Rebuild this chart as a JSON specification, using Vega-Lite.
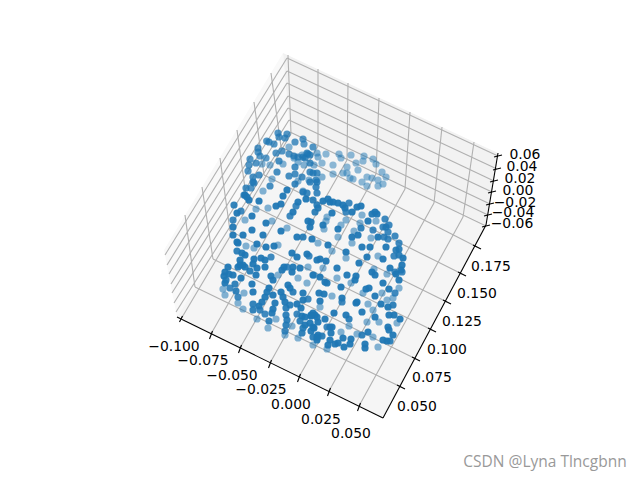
{"$schema":"https://vega.github.io/schema/vega-lite/v6.json","width":640,"height":480,"padding":0,"autosize":{"type":"fit","contains":"padding"},"background":"white","config":{"view":{"stroke":null}},
"datasets":{
"panes":[{"pane":"x","x":164,"y":250,"y2":250},{"pane":"x","x":177,"y":228.5,"y2":317},{"pane":"x","x":283,"y":53,"y2":144.4},{"pane":"x","x":290,"y":133,"y2":133},
{"pane":"y","x":283,"y":53,"y2":53},{"pane":"y","x":290,"y":56.3,"y2":133},{"pane":"y","x":486,"y":147.4,"y2":225},{"pane":"y","x":498,"y":153,"y2":153},
{"pane":"z","x":177,"y":317,"y2":317},{"pane":"z","x":290,"y":133,"y2":372.4},{"pane":"z","x":383,"y":176.7,"y2":418},{"pane":"z","x":486,"y":225,"y2":225}],
"grid":[
{"x":181,"y":319,"x2":291,"y2":134},{"x":211,"y":334,"x2":318,"y2":146},{"x":240,"y":348,"x2":347,"y2":160},{"x":270,"y":363,"x2":376,"y2":174},{"x":299,"y":377,"x2":405,"y2":189},{"x":329,"y":391,"x2":434,"y2":203},{"x":359,"y":406,"x2":463,"y2":217},
{"x":291,"y":134,"x2":288,"y2":55},{"x":318,"y":146,"x2":318,"y2":69},{"x":347,"y":160,"x2":348,"y2":83},{"x":376,"y":174,"x2":379,"y2":98},{"x":405,"y":189,"x2":410,"y2":112},{"x":434,"y":203,"x2":442,"y2":127},{"x":463,"y":217,"x2":474,"y2":142},
{"x":401,"y":387,"x2":195,"y2":287},{"x":416,"y":359,"x2":213,"y2":259},{"x":432,"y":330,"x2":230,"y2":231},{"x":447,"y":302,"x2":247,"y2":203},{"x":462,"y":274,"x2":264,"y2":175},{"x":477,"y":247,"x2":281,"y2":147},
{"x":195,"y":287,"x2":185,"y2":215},{"x":213,"y":259,"x2":202,"y2":187},{"x":230,"y":231,"x2":220,"y2":158},{"x":247,"y":203,"x2":237,"y2":130},{"x":264,"y":175,"x2":254,"y2":102},{"x":281,"y":147,"x2":271,"y2":73},
{"x":287,"y":58,"x2":498,"y2":156},{"x":287,"y":71,"x2":497,"y2":169},{"x":287,"y":83,"x2":494,"y2":181},{"x":288,"y":96,"x2":492,"y2":192},{"x":288,"y":108,"x2":490,"y2":204},{"x":289,"y":120,"x2":488,"y2":215},{"x":290,"y":132,"x2":486,"y2":226},
{"x":287,"y":58,"x2":165,"y2":255},{"x":287,"y":71,"x2":167,"y2":265},{"x":287,"y":83,"x2":169,"y2":274},{"x":288,"y":96,"x2":171,"y2":284},{"x":288,"y":108,"x2":172,"y2":293},{"x":289,"y":120,"x2":174,"y2":303},{"x":290,"y":132,"x2":176,"y2":312}],
"axes":[{"x":177,"y":317,"x2":383,"y2":418},{"x":383,"y":418,"x2":486,"y2":225},{"x":486,"y":225,"x2":498,"y2":153},
{"x":179.5,"y":322,"x2":182.5,"y2":316},{"x":209.5,"y":339,"x2":212.5,"y2":331},{"x":238.5,"y":353,"x2":241.5,"y2":345},{"x":268.5,"y":368,"x2":271.5,"y2":360},{"x":297.5,"y":382,"x2":300.5,"y2":374},{"x":327.5,"y":396,"x2":330.5,"y2":388},{"x":357.5,"y":411,"x2":360.5,"y2":403},
{"x":397,"y":385,"x2":405,"y2":389},{"x":412,"y":357,"x2":420,"y2":361},{"x":428,"y":328,"x2":436,"y2":332},{"x":443,"y":300,"x2":451,"y2":304},{"x":458,"y":272,"x2":466,"y2":276},{"x":473,"y":245,"x2":481,"y2":249},
{"x":494,"y":157,"x2":502,"y2":155},{"x":493,"y":170,"x2":501,"y2":168},{"x":490,"y":182,"x2":498,"y2":180},{"x":488,"y":193,"x2":496,"y2":191},{"x":486,"y":205,"x2":494,"y2":203},{"x":484,"y":216,"x2":492,"y2":214},{"x":482,"y":227,"x2":490,"y2":225}],
"labels":[{"x":174,"y":347,"t":"−0.100"},{"x":203,"y":361,"t":"−0.075"},{"x":232,"y":376,"t":"−0.050"},{"x":261,"y":390,"t":"−0.025"},{"x":291,"y":405,"t":"0.000"},{"x":321,"y":420,"t":"0.025"},{"x":351,"y":434,"t":"0.050"},
{"x":491,"y":267,"t":"0.175"},{"x":477,"y":294,"t":"0.150"},{"x":462,"y":322,"t":"0.125"},{"x":447,"y":350,"t":"0.100"},{"x":432,"y":378,"t":"0.075"},{"x":417,"y":407,"t":"0.050"},
{"x":525,"y":155,"t":"0.06"},{"x":522,"y":167,"t":"0.04"},{"x":520,"y":179,"t":"0.02"},{"x":518,"y":191,"t":"0.00"},{"x":515,"y":203,"t":"−0.02"},{"x":513,"y":213,"t":"−0.04"},{"x":512,"y":224,"t":"−0.06"}],
"note":[{"x":545,"y":462,"t":"CSDN @Lyna Tlncgbnn"}],
"points":[
{"x":339,"y":154,"d":0},{"x":341,"y":158,"d":0},{"x":351,"y":155,"d":0},{"x":364,"y":156,"d":0},{"x":363,"y":161,"d":0},{"x":373,"y":159,"d":0},{"x":376,"y":164,"d":0},{"x":356,"y":163,"d":0},{"x":358,"y":170,"d":0},{"x":347,"y":167,"d":0},{"x":343,"y":173,"d":0},{"x":347,"y":173,"d":0},{"x":333,"y":165,"d":0},{"x":333,"y":174,"d":0},{"x":382,"y":172,"d":0},{"x":386,"y":177,"d":0},{"x":383,"y":184,"d":0},{"x":378,"y":186,"d":0},{"x":378,"y":180,"d":0},{"x":372,"y":178,"d":0},{"x":367,"y":177,"d":0},{"x":362,"y":182,"d":0},{"x":367,"y":186,"d":0},{"x":350,"y":178,"d":0},{"x":353,"y":179,"d":0},{"x":326,"y":154,"d":0},{"x":322,"y":163,"d":0},
{"x":289,"y":147,"d":0.1},{"x":317,"y":153,"d":0.1},{"x":318,"y":157,"d":0.1},{"x":314,"y":165,"d":0.1},{"x":304,"y":165,"d":0.1},{"x":298,"y":162,"d":0.1},{"x":294,"y":158,"d":0.1},{"x":302,"y":155,"d":0.1},{"x":270,"y":165,"d":0.1},{"x":262,"y":164,"d":0.1},{"x":283,"y":164,"d":0.1},{"x":272,"y":179,"d":0.1},{"x":263,"y":191,"d":0.1},{"x":256,"y":209,"d":0.1},{"x":245,"y":220,"d":0.1},{"x":268,"y":208,"d":0.1},{"x":272,"y":221,"d":0.1},{"x":287,"y":228,"d":0.1},{"x":246,"y":246,"d":0.1},{"x":278,"y":245,"d":0.1},{"x":254,"y":248,"d":0.1},{"x":303,"y":191,"d":0.1},{"x":298,"y":181,"d":0.1},{"x":309,"y":180,"d":0.1},{"x":322,"y":177,"d":0.1},{"x":318,"y":243,"d":0.1},{"x":332,"y":251,"d":0.1},{"x":346,"y":258,"d":0.1},{"x":338,"y":237,"d":0.1},{"x":352,"y":243,"d":0.1},{"x":354,"y":231,"d":0.1},{"x":360,"y":223,"d":0.1},{"x":362,"y":215,"d":0.1},{"x":346,"y":220,"d":0.1},{"x":341,"y":225,"d":0.1},{"x":327,"y":217,"d":0.1},{"x":326,"y":221,"d":0.1},{"x":324,"y":229,"d":0.1},{"x":371,"y":238,"d":0.1},{"x":376,"y":221,"d":0.1},{"x":378,"y":256,"d":0.1},{"x":323,"y":268,"d":0.1},{"x":374,"y":269,"d":0.1},{"x":337,"y":278,"d":0.1},{"x":387,"y":274,"d":0.1},{"x":314,"y":275,"d":0.1},{"x":308,"y":267,"d":0.1},{"x":307,"y":283,"d":0.1},{"x":298,"y":278,"d":0.1},{"x":278,"y":275,"d":0.1},{"x":244,"y":293,"d":0.1},{"x":243,"y":309,"d":0.1},{"x":238,"y":303,"d":0.1},{"x":225,"y":295,"d":0.1},{"x":223,"y":289,"d":0.1},{"x":268,"y":328,"d":0.1},{"x":276,"y":319,"d":0.1},{"x":257,"y":319,"d":0.1},{"x":285,"y":335,"d":0.1},{"x":298,"y":338,"d":0.1},{"x":292,"y":326,"d":0.1},{"x":332,"y":296,"d":0.1},{"x":320,"y":307,"d":0.1},{"x":349,"y":326,"d":0.1},{"x":341,"y":332,"d":0.1},{"x":367,"y":322,"d":0.1},{"x":379,"y":322,"d":0.1},{"x":368,"y":304,"d":0.1},{"x":373,"y":310,"d":0.1},{"x":363,"y":293,"d":0.1},{"x":382,"y":293,"d":0.1},{"x":387,"y":300,"d":0.1},{"x":393,"y":298,"d":0.1},{"x":399,"y":288,"d":0.1},{"x":378,"y":347,"d":0.1},{"x":351,"y":283,"d":0.1},{"x":397,"y":323,"d":0.1},{"x":373,"y":337,"d":0.1},{"x":357,"y":334,"d":0.1},{"x":327,"y":349,"d":0.1},{"x":313,"y":345,"d":0.1},
{"x":266.7,"y":141,"d":0.6},{"x":269,"y":142,"d":0.6},{"x":278,"y":133,"d":0.6},{"x":279,"y":137,"d":0.6},{"x":287,"y":134,"d":0.6},{"x":285,"y":138,"d":0.6},{"x":274,"y":144,"d":0.6},{"x":295,"y":142,"d":0.6},{"x":303,"y":139,"d":0.6},{"x":304,"y":144,"d":0.5},{"x":282,"y":151,"d":0.6},{"x":276,"y":153,"d":0.6},{"x":258,"y":148,"d":0.6},{"x":258,"y":152,"d":0.6},{"x":260,"y":156,"d":0.5},{"x":266,"y":158,"d":0.5},{"x":250,"y":159,"d":0.6},{"x":256,"y":163,"d":0.6},{"x":249,"y":165,"d":0.6},{"x":248,"y":171,"d":0.6},{"x":279,"y":161,"d":0.7},{"x":277,"y":172,"d":0.7},{"x":259,"y":175,"d":0.7},{"x":253,"y":177,"d":0.7},{"x":254,"y":183,"d":0.6},{"x":251,"y":188,"d":0.6},{"x":270,"y":186,"d":0.7},{"x":246,"y":188,"d":0.7},{"x":244,"y":195,"d":0.7},{"x":289,"y":154,"d":0.6},{"x":294,"y":156,"d":0.6},{"x":313,"y":147,"d":0.6},{"x":308,"y":154,"d":0.7},{"x":303,"y":157,"d":0.7},{"x":305,"y":158,"d":0.7},{"x":307,"y":153,"d":0.7},{"x":310,"y":155,"d":0.7},{"x":298,"y":157,"d":0.6},{"x":310,"y":163,"d":0.7},{"x":295,"y":167,"d":0.7},{"x":310,"y":172,"d":0.7},{"x":313,"y":173,"d":0.7},{"x":317,"y":173,"d":0.7},{"x":295,"y":174,"d":0.7},{"x":302,"y":177,"d":0.7},{"x":316,"y":180,"d":0.7},{"x":289,"y":176,"d":0.7},
{"x":253,"y":182,"d":0.8},{"x":295,"y":184,"d":0.8},{"x":310,"y":182,"d":0.8},{"x":317,"y":182,"d":0.8},{"x":316,"y":187,"d":0.8},{"x":317,"y":193,"d":0.8},{"x":287,"y":190,"d":1},{"x":283,"y":196,"d":1},{"x":303,"y":192,"d":0.8},{"x":307,"y":193,"d":0.8},{"x":306,"y":199,"d":1},{"x":313,"y":200,"d":0.9},{"x":323,"y":201,"d":1},{"x":328,"y":199,"d":1},{"x":330,"y":202,"d":1},{"x":333,"y":202,"d":1},{"x":338,"y":203,"d":1},{"x":343,"y":205,"d":1},{"x":349,"y":203,"d":0.8},{"x":345,"y":208,"d":1},{"x":357,"y":207,"d":1},{"x":361,"y":206,"d":1},{"x":352,"y":212,"d":1},{"x":346,"y":212,"d":0.8},{"x":332,"y":213,"d":1},{"x":317,"y":205,"d":0.9},{"x":318,"y":208,"d":0.9},{"x":315,"y":212,"d":0.9},{"x":323,"y":225,"d":1},{"x":338,"y":229,"d":1},{"x":361,"y":228,"d":0.9},{"x":358,"y":235,"d":1},{"x":352,"y":237,"d":1},{"x":368,"y":221,"d":1},{"x":372,"y":214,"d":1},{"x":375,"y":212,"d":1},{"x":377,"y":214,"d":1},{"x":385,"y":219,"d":0.8},{"x":386,"y":227,"d":0.8},{"x":389,"y":225,"d":0.8},{"x":383,"y":227,"d":0.8},{"x":373,"y":230,"d":0.8},{"x":388,"y":232,"d":0.8},{"x":384,"y":237,"d":0.8},{"x":378,"y":237,"d":1},{"x":388,"y":239,"d":0.8},{"x":395,"y":236,"d":0.8},{"x":399,"y":243,"d":0.8},{"x":386,"y":247,"d":1},{"x":396,"y":250,"d":0.9},{"x":399,"y":249,"d":0.9},{"x":394,"y":256,"d":0.8},{"x":399,"y":255,"d":0.9},{"x":403,"y":258,"d":1},{"x":402,"y":265,"d":1},{"x":390,"y":268,"d":1},{"x":401,"y":270,"d":1},{"x":395,"y":272,"d":0.8},{"x":312,"y":239,"d":1},{"x":328,"y":245,"d":1},{"x":346,"y":252,"d":1},{"x":362,"y":247,"d":1},{"x":370,"y":247,"d":1},{"x":367,"y":257,"d":1},{"x":383,"y":259,"d":1},{"x":359,"y":263,"d":1},{"x":320,"y":259,"d":1},{"x":326,"y":261,"d":1},{"x":337,"y":268,"d":1},{"x":234,"y":205,"d":0.9},{"x":237,"y":213,"d":1},{"x":241,"y":211,"d":0.8},{"x":233,"y":220,"d":0.8},{"x":233,"y":227,"d":1},{"x":252,"y":216,"d":1},{"x":259,"y":201,"d":1},{"x":249,"y":200,"d":1},{"x":245,"y":195,"d":1},{"x":247,"y":197,"d":1},{"x":298,"y":202,"d":1},{"x":296,"y":206,"d":0.8},{"x":276,"y":206,"d":1},{"x":281,"y":204,"d":1},{"x":293,"y":212,"d":1},{"x":290,"y":216,"d":0.8},{"x":266,"y":223,"d":1},{"x":252,"y":230,"d":1},{"x":263,"y":235,"d":1},{"x":281,"y":231,"d":1},{"x":308,"y":221,"d":1},{"x":311,"y":222,"d":1},{"x":310,"y":227,"d":1},{"x":297,"y":237,"d":1},{"x":303,"y":237,"d":0.9},{"x":233,"y":235,"d":1},{"x":243,"y":235,"d":1},{"x":237,"y":242,"d":1},{"x":238,"y":243,"d":1},{"x":257,"y":244,"d":1},{"x":266,"y":247,"d":1},{"x":274,"y":246,"d":1},{"x":237,"y":251,"d":0.9},{"x":242,"y":253,"d":1},{"x":245,"y":255,"d":1},{"x":240,"y":260,"d":1},{"x":254,"y":259,"d":1},{"x":261,"y":258,"d":1},{"x":265,"y":260,"d":1},{"x":271,"y":257,"d":0.8},{"x":292,"y":253,"d":1},{"x":297,"y":257,"d":1},{"x":307,"y":254,"d":1},{"x":309,"y":256,"d":0.8},{"x":243,"y":265,"d":1},{"x":238,"y":267,"d":1},{"x":228,"y":267,"d":1},{"x":253,"y":264,"d":1},{"x":257,"y":268,"d":1},{"x":265,"y":267,"d":1},{"x":284,"y":267,"d":1},{"x":293,"y":267,"d":1},{"x":317,"y":260,"d":1},{"x":300,"y":268,"d":1},
{"x":225,"y":272,"d":1},{"x":224,"y":276,"d":1},{"x":229,"y":274,"d":1},{"x":233,"y":275,"d":1},{"x":226,"y":280,"d":0.9},{"x":225,"y":283,"d":1},{"x":230,"y":288,"d":0.8},{"x":235,"y":284,"d":0.9},{"x":236,"y":291,"d":0.9},{"x":241,"y":278,"d":1},{"x":238,"y":297,"d":0.8},{"x":250,"y":271,"d":0.9},{"x":256,"y":275,"d":1},{"x":252,"y":284,"d":1},{"x":253,"y":292,"d":1},{"x":240,"y":265,"d":1},{"x":245,"y":267,"d":1},{"x":271,"y":276,"d":1},{"x":273,"y":280,"d":1},{"x":282,"y":270,"d":1},{"x":287,"y":267,"d":0.8},{"x":292,"y":272,"d":1},{"x":288,"y":285,"d":1},{"x":290,"y":288,"d":1},{"x":293,"y":292,"d":0.9},{"x":269,"y":288,"d":1},{"x":267,"y":292,"d":1},{"x":265,"y":297,"d":1},{"x":273,"y":295,"d":1},{"x":281,"y":292,"d":1},{"x":283,"y":297,"d":1},{"x":285,"y":302,"d":1},{"x":290,"y":305,"d":0.9},{"x":262,"y":302,"d":1},{"x":259,"y":306,"d":1},{"x":253,"y":304,"d":0.9},{"x":253,"y":310,"d":0.9},{"x":265,"y":314,"d":0.8},{"x":260,"y":310,"d":0.8},{"x":275,"y":303,"d":1},{"x":273,"y":309,"d":1},{"x":272,"y":313,"d":1},{"x":269,"y":321,"d":0.9},{"x":286,"y":308,"d":0.9},{"x":286,"y":315,"d":0.9},{"x":287,"y":320,"d":0.9},{"x":286,"y":325,"d":0.9},{"x":285,"y":331,"d":0.8},{"x":303,"y":293,"d":1},{"x":297,"y":304,"d":1},{"x":303,"y":300,"d":1},{"x":308,"y":299,"d":0.8},{"x":301,"y":308,"d":1},{"x":297,"y":314,"d":0.8},{"x":302,"y":316,"d":1},{"x":300,"y":321,"d":0.9},{"x":305,"y":317,"d":1},{"x":311,"y":316,"d":1},{"x":313,"y":313,"d":1},{"x":317,"y":317,"d":1},{"x":305,"y":325,"d":1},{"x":303,"y":328,"d":0.9},{"x":302,"y":333,"d":0.9},{"x":310,"y":323,"d":1},{"x":314,"y":328,"d":1},{"x":311,"y":331,"d":1},{"x":313,"y":337,"d":0.9},{"x":317,"y":340,"d":1},{"x":318,"y":335,"d":1},
{"x":313,"y":275,"d":1},{"x":325,"y":282,"d":1},{"x":327,"y":283,"d":1},{"x":319,"y":293,"d":1},{"x":324,"y":294,"d":1},{"x":341,"y":287,"d":1},{"x":347,"y":275,"d":1},{"x":356,"y":276,"d":1},{"x":355,"y":280,"d":1},{"x":342,"y":298,"d":1},{"x":342,"y":302,"d":0.8},{"x":320,"y":301,"d":1},{"x":334,"y":313,"d":1},{"x":346,"y":315,"d":1},{"x":349,"y":319,"d":0.9},{"x":325,"y":319,"d":1},{"x":318,"y":322,"d":1},{"x":315,"y":315,"d":1},{"x":311,"y":315,"d":1},{"x":330,"y":327,"d":1},{"x":332,"y":327,"d":1},{"x":327,"y":327,"d":0.8},{"x":331,"y":333,"d":1},{"x":322,"y":336,"d":0.9},{"x":357,"y":302,"d":1},{"x":356,"y":303,"d":1},{"x":362,"y":312,"d":1},{"x":375,"y":317,"d":1},{"x":366,"y":289,"d":1},{"x":369,"y":288,"d":1},{"x":375,"y":296,"d":1},{"x":383,"y":283,"d":1},{"x":389,"y":289,"d":1},{"x":395,"y":293,"d":0.8},{"x":381,"y":304,"d":1},{"x":388,"y":307,"d":1},{"x":393,"y":305,"d":0.9},{"x":389,"y":315,"d":1},{"x":394,"y":315,"d":1},{"x":400,"y":319,"d":1},{"x":388,"y":327,"d":1},{"x":389,"y":330,"d":1},{"x":393,"y":335,"d":1},{"x":387,"y":341,"d":1},{"x":390,"y":341,"d":0.9},{"x":383,"y":340,"d":1},{"x":368,"y":332,"d":1},{"x":365,"y":344,"d":1},{"x":365,"y":348,"d":1},{"x":362,"y":335,"d":0.9},{"x":351,"y":339,"d":1},{"x":350,"y":344,"d":1},{"x":343,"y":338,"d":1},{"x":344,"y":347,"d":1},{"x":338,"y":343,"d":1},{"x":335,"y":344,"d":1},{"x":330,"y":340,"d":1},{"x":328,"y":345,"d":1},{"x":313,"y":327,"d":1},{"x":317,"y":337,"d":1},{"x":375,"y":275,"d":1},{"x":396,"y":274,"d":1},{"x":399,"y":280,"d":1},{"x":402,"y":272,"d":0.8},{"x":372,"y":272,"d":1},{"x":320,"y":277,"d":1}]
},
"layer":[
{"data":{"name":"panes"},"mark":{"type":"area","line":false},"encoding":{"x":{"field":"x","type":"quantitative","scale":{"domain":[0,640],"nice":false,"zero":false},"axis":null},"y":{"field":"y","type":"quantitative","scale":{"domain":[480,0],"nice":false,"zero":false},"axis":null,"stack":null},"y2":{"field":"y2"},"color":{"field":"pane","type":"nominal","legend":null,"scale":{"domain":["x","y","z"],"range":["#f9f9f9","#f2f2f2","#f5f5f5"]}},"detail":{"field":"pane"}}},
{"data":{"name":"grid"},"mark":{"type":"rule","color":"#b0b0b0","strokeWidth":1.1},"encoding":{"x":{"field":"x","type":"quantitative"},"y":{"field":"y","type":"quantitative"},"x2":{"field":"x2"},"y2":{"field":"y2"}}},
{"data":{"name":"axes"},"mark":{"type":"rule","color":"#000000","strokeWidth":1.1},"encoding":{"x":{"field":"x","type":"quantitative"},"y":{"field":"y","type":"quantitative"},"x2":{"field":"x2"},"y2":{"field":"y2"}}},
{"data":{"name":"points"},"mark":{"type":"circle","color":"#1f77b4","size":52},"encoding":{"x":{"field":"x","type":"quantitative"},"y":{"field":"y","type":"quantitative"},"opacity":{"field":"d","type":"quantitative","legend":null,"scale":{"domain":[0,1],"range":[0.5,0.95]}}}},
{"data":{"name":"labels"},"mark":{"type":"text","font":"DejaVu Sans","fontSize":13.9,"color":"#000000","align":"center","baseline":"middle"},"encoding":{"x":{"field":"x","type":"quantitative"},"y":{"field":"y","type":"quantitative"},"text":{"field":"t"}}},
{"data":{"name":"note"},"mark":{"type":"text","font":"Open Sans","fontSize":15.5,"color":"#999999","align":"center","baseline":"middle"},"encoding":{"x":{"field":"x","type":"quantitative"},"y":{"field":"y","type":"quantitative"},"text":{"field":"t"}}}
]}
